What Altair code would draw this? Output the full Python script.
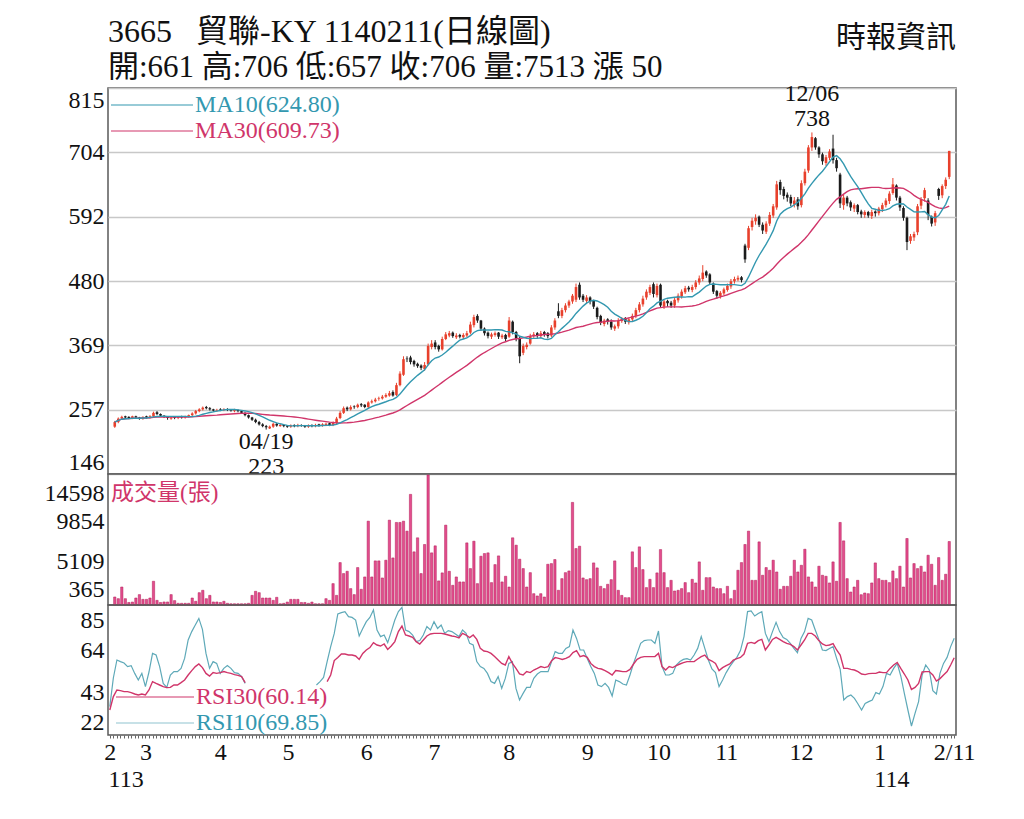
import altair as alt
import pandas as pd

# ------------------------------------------------------------------ data
open_ = [
    228, 236, 242, 246, 245, 243, 246, 244, 242, 246,
    244, 246, 253, 250, 247, 245, 242, 245, 243, 246,
    244, 246, 248, 251, 255, 258, 262, 260, 258, 256,
    258, 257, 258, 257, 255, 257, 255, 252, 248, 244,
    240, 236, 232, 229, 225, 228, 233, 229, 231, 230,
    228, 231, 229, 231, 230, 228, 231, 229, 232, 230,
    231, 234, 231, 234, 243, 252, 261, 258, 263, 262,
    267, 266, 262, 270, 272, 276, 277, 280, 282, 288,
    283, 300, 318, 346, 348, 342, 337, 334, 328, 336,
    366, 374, 368, 362, 380, 386, 391, 383, 387, 383,
    386, 391, 404, 420, 412, 398, 391, 384, 387, 391,
    383, 387, 384, 410, 392, 382, 356, 366, 372, 385,
    390, 385, 392, 390, 386, 400, 428, 420, 430, 438,
    445, 448, 474, 455, 446, 452, 446, 434, 420, 406,
    414, 410, 398, 402, 411, 416, 409, 414, 420, 430,
    440, 452, 460, 475, 456, 474, 436, 446, 443, 438,
    447, 454, 461, 469, 465, 470, 478, 484, 497, 492,
    476, 463, 454, 459, 465, 471, 480, 483, 487, 542,
    538, 574, 584, 592, 578, 566, 580, 594, 608, 652,
    640, 630, 626, 613, 622, 612, 650, 672, 712, 728,
    712, 700, 685, 694, 710, 690, 665, 612, 625, 617,
    606, 612, 601, 595, 600, 593, 601, 598, 605, 612,
    619, 633, 646, 625, 607, 590, 550, 556, 565, 611,
    624, 620, 592, 582, 640, 629, 645, 661,
]
high = [
    238, 244, 247, 247, 246, 247, 247, 245, 246, 247,
    248, 254, 255, 251, 248, 246, 245, 246, 246, 247,
    247, 249, 253, 257, 260, 263, 264, 262, 259, 259,
    260, 260, 260, 258, 259, 258, 256, 253, 249, 245,
    242, 238, 234, 231, 230, 235, 234, 233, 232, 231,
    232, 232, 233, 232, 231, 232, 232, 233, 233, 234,
    235, 235, 237, 245, 255, 263, 263, 265, 265, 268,
    269, 267, 272, 275, 278, 280, 283, 286, 290, 291,
    304, 324, 350, 350, 351, 344, 339, 336, 340, 372,
    378, 378, 370, 384, 392, 394, 393, 390, 389, 390,
    394, 410, 422, 423, 413, 400, 393, 391, 393, 392,
    389, 389, 418, 412, 394, 384, 372, 374, 389, 392,
    392, 394, 394, 392, 404, 416, 442, 434, 442, 448,
    458, 476, 478, 458, 456, 454, 448, 436, 422, 415,
    416, 414, 405, 416, 418, 418, 417, 424, 434, 444,
    455, 466, 474, 478, 476, 476, 448, 448, 446, 452,
    459, 466, 472, 472, 474, 482, 490, 508, 499, 494,
    478, 465, 463, 469, 476, 484, 488, 490, 489, 545,
    576, 590, 596, 594, 582, 584, 600, 614, 654, 656,
    644, 634, 630, 626, 626, 655, 675, 716, 738, 730,
    714, 703, 699, 709, 734, 694, 668, 630, 628, 620,
    615, 614, 604, 603, 602, 604, 603, 609, 616, 624,
    636, 659, 648, 628, 610, 592, 562, 566, 614, 626,
    642, 624, 594, 602, 642, 648, 660, 706,
]
low = [
    226, 234, 240, 242, 241, 241, 242, 240, 240, 242,
    242, 244, 248, 245, 243, 240, 240, 241, 241, 242,
    242, 244, 246, 249, 253, 256, 258, 256, 254, 254,
    255, 255, 255, 254, 253, 253, 250, 246, 242, 238,
    234, 230, 227, 223, 224, 226, 228, 228, 227, 226,
    226, 227, 227, 228, 226, 226, 227, 227, 228, 228,
    229, 229, 229, 232, 241, 250, 255, 256, 259, 260,
    262, 260, 260, 268, 270, 273, 275, 278, 280, 280,
    281, 298, 316, 340, 336, 332, 330, 326, 325, 334,
    362, 362, 358, 360, 378, 383, 382, 380, 381, 380,
    383, 388, 400, 408, 394, 386, 381, 380, 384, 380,
    380, 376, 382, 388, 376, 338, 352, 362, 370, 382,
    382, 382, 384, 381, 383, 396, 416, 416, 426, 434,
    441, 444, 448, 444, 442, 440, 432, 414, 404, 402,
    405, 396, 394, 398, 408, 406, 405, 410, 416, 426,
    436, 448, 456, 452, 452, 434, 432, 436, 434, 434,
    443, 450, 458, 462, 461, 466, 474, 480, 486, 474,
    458, 450, 450, 456, 462, 467, 476, 480, 478, 512,
    534, 568, 578, 574, 562, 562, 576, 590, 604, 630,
    622, 618, 610, 608, 604, 608, 646, 668, 706, 708,
    694, 682, 680, 690, 684, 670, 607, 604, 610, 602,
    600, 596, 590, 590, 590, 588, 592, 594, 600, 608,
    614, 630, 620, 602, 585, 534, 545, 550, 560, 605,
    618, 586, 575, 576, 621, 624, 640, 657,
]
close = [
    236, 242, 245, 244, 243, 246, 244, 242, 245, 244,
    246, 252, 250, 247, 245, 243, 244, 243, 245, 244,
    246, 248, 251, 255, 258, 261, 260, 258, 256, 257,
    257, 258, 257, 256, 257, 255, 252, 248, 244, 240,
    236, 232, 229, 227, 228, 233, 230, 231, 229, 228,
    230, 229, 231, 230, 228, 230, 229, 231, 230, 232,
    233, 231, 235, 242, 252, 260, 258, 262, 262, 266,
    265, 262, 270, 272, 275, 277, 280, 283, 286, 282,
    300, 320, 345, 345, 340, 336, 333, 330, 335, 368,
    372, 366, 362, 380, 388, 390, 385, 386, 384, 387,
    390, 405, 418, 412, 398, 390, 385, 388, 390, 384,
    386, 380, 412, 392, 380, 350, 368, 370, 385, 388,
    386, 390, 388, 385, 400, 412, 420, 430, 438, 445,
    455, 470, 452, 448, 452, 445, 436, 418, 408, 412,
    410, 400, 402, 412, 415, 410, 414, 420, 430, 440,
    450, 462, 470, 458, 472, 438, 445, 442, 438, 448,
    455, 462, 468, 466, 470, 478, 485, 495, 490, 478,
    462, 455, 460, 466, 472, 480, 484, 486, 482, 518,
    572, 585, 590, 578, 568, 580, 595, 610, 648, 638,
    628, 625, 615, 620, 610, 650, 670, 712, 730, 712,
    700, 688, 695, 705, 690, 676, 615, 625, 615, 608,
    612, 600, 596, 600, 594, 600, 598, 606, 612, 620,
    632, 648, 625, 608, 590, 548, 558, 562, 610, 622,
    638, 595, 580, 598, 628, 645, 656, 706,
]
volume = [
    950, 750, 2130, 750, 300, 350, 830, 1230, 670, 670,
    830, 2810, 550, 300, 360, 360, 1230, 520, 200, 200,
    200, 200, 830, 440, 1460, 1740, 750, 1140, 360, 360,
    300, 440, 200, 150, 150, 150, 150, 150, 200, 1140,
    1620, 1460, 830, 830, 830, 550, 910, 150, 200, 350,
    670, 670, 670, 300, 300, 200, 350, 150, 150, 150,
    750, 550, 2530, 1140, 5020, 3720, 3990, 1940, 1230, 4430,
    1860, 3320, 9920, 3320, 5220, 5220, 3200, 5300, 10040, 5570,
    9770, 9770, 9920, 8740, 13090, 6290, 7950, 3720, 7160, 15380,
    6170, 7000, 2850, 3800, 9450, 3990, 2330, 3320, 2730, 2730,
    7350, 4310, 7550, 2530, 5770, 6090, 6170, 2650, 4780, 5810,
    2730, 3400, 2130, 7950, 7080,
    5420, 4310, 2130, 3830, 1340, 1070, 1340, 950, 4820, 4900,
    5380, 1740, 3120, 3830, 4030, 12140, 6680, 6960, 3200, 3000,
    3120, 4980, 4390, 2210, 1940, 2450, 3000, 5220, 1740, 1140,
    870, 870, 6290, 4430, 6880, 4190, 2060, 3040, 2060, 3800,
    6560, 3830, 2060, 2920, 1660, 1740, 1940, 2650, 1460, 3040,
    2610, 5100, 1740, 3240, 3240, 2130, 1940, 1940, 1340, 2210,
    750, 1740, 4110, 5020, 7160, 8740, 2920, 2920, 7470, 3520,
    4430, 4110, 5300, 3910, 1860, 2210, 2210, 3400, 5300, 3910,
    4700, 6600, 3320, 2730, 2130, 4590, 3520, 3400, 2610, 5100,
    2810, 9770, 7590, 3120, 1540, 2130, 2920, 1220, 1420, 1340,
    2610, 4980, 3120, 2920, 2920, 2650, 4030, 3120, 4590, 2130,
    7870, 3200, 4900, 4310, 4590, 3910, 5890, 4820, 2330, 5610,
    2920, 3640, 7513,
]
rsi10 = [
    35.7, 50, 59, 58.2, 57.5, 55.7, 56.2, 52.3, 49, 52.3,
    45.7, 53, 62.3, 61.5, 55.7, 47.3, 45.3, 51.5, 53.2, 53.2,
    54.8, 59.8, 69, 73.2, 76.5, 79.8, 74.3, 62.3, 54.8, 58.2,
    57.3, 52.3, 54.8, 56.2, 54.8, 52.7, 52.3, 50.7, 47.3,
    None, None, None, None, None, None, None, None, None, None,
    None, None, None, None, None, None, None, None, None,
    46.5, 48.2, 50.3, 58.2, 65.7, 72.3, 82, 82.7, 83.2, 80.7, 80.3, 79,
    71, 74.8, 78.2, 80.3, 84, 74, 70.7, 71.5, 67.7, 73.2,
    79, 83.2, 85.3, 74, 73.2, 71.5, 68.2, 68.7, 71.5, 75.7,
    74, 78.2, 74.8, 76.5, 72.3, 73.7, 73.2, 72, 70.7, 74,
    72.3, 67.3, 66.5, 58.2, 55.7, 54.8, 52.3, 48.2, 47.3, 50.7,
    44.8, 49.8, 57.3, 58.2, 44.8, 39, 42.3, 45.3, 45.3, 49.8,
    52, 53.2, 53.2, 53.2, 58.2, 63.2, 62.3, 62.3, 64.8, 65.7,
    74, 69.8, 64, 64, 59.8, 55.7, 52.3, 46.5, 45.7, 47.3,
    45.3, 41, 49, 48.2, 47, 46.5, 51.5, 57.3, 62.3, 67.3,
    68.7, 69, 69, 67.3, 73.5, 55.7, 51.5, 51.5, 52.3, 56.5,
    58.2, 59.3, 59.7, 59, 61.5, 64.8, 70.7, 64.8, 59, 54.5,
    52.7, 45.7, 49, 52.7, 55.7, 58.2, 60.3, 63.7, 70.7, 83.2,
    83.5, 81, 82.3, 83.2, 72.3, 68.2, 73.2, 77.8, 73.2, 70.2,
    69.3, 67.3, 64.8, 62.7, 69.8, 73.2, 79.8, 79, 74, 69.3,
    64, 63.7, 64.8, 65.7, 59.8, 54.3, 39, 40.7, 41.5, 39.8,
    37, 34, 37.3, 38.2, 39, 42.7, 42, 45.7, 52.3, 51.5,
    54.8, 57.3, 51, 42.3, 34, 26, 32.3, 38.2, 51.5, 56.5,
    54, 43.7, 42, 52.3, 57.3, 60.3, 65.7, 69.85,
]
rsi30 = [
    34, 40.7, 44, 43.7, 43.2, 43.2, 42.7, 42, 41.5, 42,
    41.5, 44, 48.2, 47.3, 46.5, 45.7, 45.2, 45.3, 46.5, 46.5,
    47.7, 49, 51.5, 53.7, 55.7, 57, 55.2, 52.3, 51, 52.7,
    52.3, 52.7, 53.2, 52.7, 52.3, 51.7, 51.3, 50.7, 47.7,
    None, None, None, None, None, None, None, None, None, None, None,
    None, None, None, None, None, None, None, None, None, None, None,
    48.2, 51.5, 58.7, 60.3, 62, 62, 61.5, 61.5, 61,
    59.3, 62.3, 64, 65.2, 67.7, 66.5, 66, 67, 64.3, 66,
    68.2, 73.2, 76, 71.5, 71, 70.3, 68.2, 67, 69, 71,
    72, 72.3, 72.3, 72.3, 72, 71.5, 71, 70.7, 70, 72.3,
    71.5, 70.2, 71.5, 69.3, 64.8, 63.5, 63.2, 62.3, 60.7, 59,
    57.3, 56.5, 60.7, 57.3, 54.8, 52, 51.5, 53.2, 52.7, 54,
    54.8, 55.7, 55.2, 55.7, 58.7, 60.2, 59.8, 59.3, 59.8, 60.7,
    62.7, 63.7, 60.7, 61.2, 60.3, 57.3, 55.7, 54.8, 54.5, 53.7,
    52.7, 51.5, 53.7, 53.5, 53.2, 53.2, 54.3, 57, 59.3, 60.3,
    60.7, 60.7, 60.7, 60.7, 62.3, 55.7, 54, 55.7, 55.2, 56.2,
    57, 57.7, 58.2, 58.2, 58.2, 59.5, 60.7, 61.5, 59.3, 58.5,
    57.3, 53.7, 55.2, 56.2, 57, 59, 59.7, 60.3, 62, 67.3,
    67.8, 67.3, 68.7, 69.3, 64, 66.5, 69.3, 70.3, 69.3, 68.2,
    67.3, 66.8, 65.7, 64, 66.5, 69, 72.3, 72.3, 71, 68.7,
    67, 66.2, 66.5, 67.2, 64, 61.5, 54.8, 54.8, 54.3, 54,
    53.2, 52, 51.7, 52.2, 52.3, 52.3, 53, 52.7, 52.7, 54.8,
    56.5, 57.8, 54.8, 52, 49, 44.3, 45.3, 47.3, 53, 53.2,
    53.2, 51.5, 48.5, 49.7, 51.5, 53.2, 56.5, 60.14,
]

month_idx = [0, 10, 31, 50, 72, 91, 112, 134, 154, 173, 194, 216, 237]
month_lbl = ["2", "3", "4", "5", "6", "7", "8", "9", "10", "11", "12", "1", "2/11"]
year_pos = [4.6, 219.5]
year_lbl = ["113", "114"]
price_ticks = [146, 257, 369, 480, 592, 704, 815]
vol_ticks = [365, 5109, 9854, 14598]
rsi_ticks = [22, 43, 64, 85]

title_main = "3665\u00a0\u00a0\u00a0貿聯-KY 1140211(日線圖)"
title_sub = "開:661 高:706 低:657 收:706 量:7513 漲 50"
source_txt = "時報資訊"
ma_legend = ["MA10(624.80)", "MA30(609.73)"]
rsi_legend = ["RSI30(60.14)", "RSI10(69.85)"]
vol_label = "成交量(張)"
peak_idx, peak_val, peak_date = 198, 738, "12/06"
low_idx, low_val, low_date = 43, 223, "04/19"

# ------------------------------------------------------------------ frame
N = len(close)
df = pd.DataFrame({"i": list(range(N)), "o": open_, "h": high, "l": low,
                   "c": close, "v": volume})
df["dir"] = ["up" if c >= o else "down" for o, c in zip(open_, close)]
df["seg"] = [0 if k < 45 else 1 for k in range(N)]

rsi_rows = []
for k in range(N):
    if rsi10[k] is not None:
        rsi_rows.append({"i": k, "val": rsi10[k], "s": "RSI10", "seg": df["seg"][k]})
for k in range(N):
    if rsi30[k] is not None:
        rsi_rows.append({"i": k, "val": rsi30[k], "s": "RSI30", "seg": df["seg"][k]})
rsi_df = pd.DataFrame(rsi_rows)

FONT = "Liberation Serif, Noto Sans CJK TC"
W, H1, H2, H3 = 848, 386, 131, 130
RED, BLACK = "#e8402c", "#1b1b1b"
TEAL, CRIM = "#3398b0", "#d0356a"
VOLC = "#e34d8e"

xscale = alt.Scale(domain=[-0.5, N - 0.5], nice=False, zero=False)
xnone = alt.X("i:Q", scale=xscale, axis=None)
cscale = alt.Scale(domain=["up", "down"], range=[RED, BLACK])

common_axis = dict(title=None, domain=False, ticks=False, labelFont=FONT,
                   labelFontSize=24, labelColor="#111", labelPadding=4,
                   minExtent=95, maxExtent=95)

pscale = alt.Scale(domain=[146, 815], nice=False, zero=False)
paxis = alt.Axis(values=price_ticks, grid=True, gridColor="#c8c8c8",
                 gridWidth=1.5, labelFlush=True, format="d", **common_axis)


def py(field):
    return alt.Y(field, scale=pscale, axis=paxis)


base = alt.Chart(df)
wicks = base.mark_rule(strokeWidth=1).encode(
    x=xnone, y=py("l:Q"), y2="h:Q",
    color=alt.Color("dir:N", scale=cscale, legend=None))
bodies = base.mark_bar(size=2.6).encode(
    x=xnone, y=py("o:Q"), y2="c:Q",
    color=alt.Color("dir:N", scale=cscale, legend=None))
ma10 = base.transform_window(
    ma10="mean(c)", frame=[-9, 0], sort=[alt.SortField("i")]
).mark_line(color=TEAL, strokeWidth=1.4).encode(x=xnone, y=py("ma10:Q"))
ma30 = base.transform_window(
    ma30="mean(c)", frame=[-29, 0], sort=[alt.SortField("i")]
).mark_line(color=CRIM, strokeWidth=1.4).encode(x=xnone, y=py("ma30:Q"))


def txt(t, x, y, size=24, color="#111", align="left", baseline="middle", dy=0):
    return alt.Chart(pd.DataFrame({"t": [t]})).mark_text(
        font=FONT, fontSize=size, color=color, align=align,
        baseline=baseline, dy=dy).encode(text="t:N", x=alt.value(x), y=alt.value(y))


def seg(x1, x2, y, color):
    return alt.Chart(pd.DataFrame({"t": [0]})).mark_rule(
        color=color, strokeWidth=1.2).encode(
        x=alt.value(x1), x2=alt.value(x2), y=alt.value(y))


ann = pd.DataFrame({"i": [peak_idx, low_idx], "v": [peak_val, low_val],
                    "d": [peak_date, low_date], "n": [str(peak_val), str(low_val)]})
ann_peak = ann[ann["i"] == peak_idx]
ann_low = ann[ann["i"] == low_idx]
ann_layers = [
    alt.Chart(ann_peak).mark_text(font=FONT, fontSize=24, dy=-13, color="#111").encode(
        x=xnone, y=py("v:Q"), text="n:N"),
    alt.Chart(ann_peak).mark_text(font=FONT, fontSize=24, dy=-38, color="#111").encode(
        x=xnone, y=py("v:Q"), text="d:N"),
    alt.Chart(ann_low).mark_text(font=FONT, fontSize=24, dy=12, color="#111").encode(
        x=xnone, y=py("v:Q"), text="d:N"),
    alt.Chart(ann_low).mark_text(font=FONT, fontSize=24, dy=37, color="#111").encode(
        x=xnone, y=py("v:Q"), text="n:N"),
]

price = alt.layer(
    wicks, bodies, ma30, ma10,
    seg(3, 85, 17, TEAL), txt(ma_legend[0], 87, 17, color=TEAL),
    seg(3, 85, 43, CRIM), txt(ma_legend[1], 87, 43, color=CRIM),
    *ann_layers,
    txt(title_main, 0, -56, size=32),
    txt(title_sub, 0, -20, size=31),
    txt(source_txt, W, -50, size=30, align="right"),
).properties(width=W, height=H1)

# volume
vaxis = alt.Axis(values=vol_ticks, grid=False, format="d",
                 labelBaseline={"condition": [
                     {"test": "datum.value > 14000", "value": "top"},
                     {"test": "datum.value < 1000", "value": "bottom"}],
                     "value": "middle"},
                 **common_axis)
vol = alt.layer(
    base.mark_bar(size=2.3, color=VOLC, stroke="#b01a55", strokeWidth=0.5).encode(
        x=xnone,
        y=alt.Y("v:Q", scale=alt.Scale(domain=[0, 15500], nice=False), axis=vaxis)),
    txt(vol_label, 3, 19, size=23, color=CRIM),
).properties(width=W, height=H2)

# RSI
label_expr = " : ".join(f"datum.value == {k} ? '{t}'" for k, t in zip(month_idx, month_lbl)) + " : ''"
xaxis = alt.Axis(values=list(range(N)), labelExpr=label_expr, title=None,
                 domain=False, grid=False, ticks=True, tickSize=3,
                 tickColor="#666", labelFont=FONT, labelFontSize=24,
                 labelColor="#111", labelPadding=2, labelOverlap=False,
                 labelBound=False, labelFlush=False)
rscale = alt.Scale(domain=[21.5, 86.5], nice=False, zero=False)
raxis = alt.Axis(values=rsi_ticks, grid=False,
                 labelBaseline={"condition": [
                     {"test": "datum.value > 80", "value": "top"},
                     {"test": "datum.value < 30", "value": "bottom"}],
                     "value": "middle"},
                 **common_axis)
xr = alt.X("i:Q", scale=xscale, axis=xaxis)
rsi10_line = alt.Chart(rsi_df[rsi_df["s"] == "RSI10"]).mark_line(
    color="#5ea9b8", strokeWidth=1.2).encode(
    x=xr, y=alt.Y("val:Q", scale=rscale, axis=raxis), detail="seg:N")
rsi30_line = alt.Chart(rsi_df[rsi_df["s"] == "RSI30"]).mark_line(
    color=CRIM, strokeWidth=1.4).encode(
    x=xr, y=alt.Y("val:Q", scale=rscale, axis=raxis), detail="seg:N")
years = alt.Chart(pd.DataFrame({"i": year_pos, "t": year_lbl})).mark_text(
    font=FONT, fontSize=24, color="#111").encode(
    x=alt.X("i:Q", scale=xscale, axis=xaxis), y=alt.value(H3 + 45), text="t:N")

rsi = alt.layer(
    rsi10_line, rsi30_line,
    seg(8, 86, 92, CRIM), txt(rsi_legend[0], 88, 92, color=CRIM),
    seg(8, 86, 118, "#8fc3cf"), txt(rsi_legend[1], 88, 118, color=TEAL),
    years,
).properties(width=W, height=H3)

chart = alt.vconcat(price, vol, rsi, spacing=0, bounds="flush").properties(
    padding={"left": 4, "top": 7, "right": 12, "bottom": 4}
).configure_view(stroke="#5a5a5a", strokeWidth=1.5)

chart.save("out.html", embed_options={"renderer": "svg", "actions": False})
